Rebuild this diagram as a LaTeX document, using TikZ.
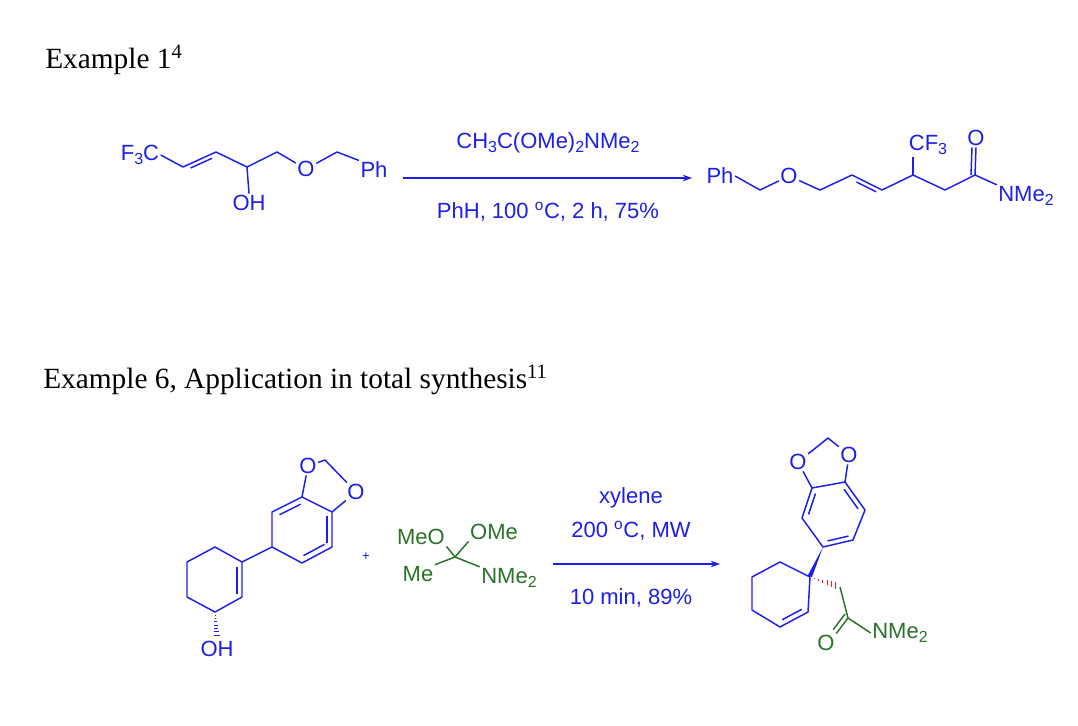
\documentclass[tikz,border=0pt]{standalone}
\usepackage{fontspec}
\setmainfont{Liberation Serif}
\newfontfamily\chem{Liberation Sans}
\usetikzlibrary{arrows.meta,calc}
\definecolor{cb}{RGB}{30,30,235}
\definecolor{cg}{RGB}{40,115,40}
\definecolor{cr}{RGB}{230,30,30}
\newcommand{\sbs}[1]{\raisebox{-0.35ex}{\fontsize{12}{12}\selectfont #1}}
\begin{document}
\begin{tikzpicture}[x=0.75pt,y=-0.75pt,
  bd/.style={draw=cb,line width=1.1pt,line join=round},
  gd/.style={draw=cg,line width=1.1pt,line join=round},
  lb/.style={text=cb,font=\chem\fontsize{16.5}{18}\selectfont,inner sep=1pt},
  lg/.style={text=cg,font=\chem\fontsize{16.5}{18}\selectfont,inner sep=1pt},
  hd/.style={font=\fontsize{22}{26}\selectfont,anchor=west,inner sep=0pt},
  arr/.style={draw=cb,line width=0.8pt,-{Stealth[length=7pt,width=5pt]}}]
\useasboundingbox (0,0) rectangle (1078,725);
\node[hd] (h1) at (45,60) {Example 1\textsuperscript{4}};
\node[hd] (h2) at (43,380) {Example 6, Application in total synthesis\textsuperscript{11}};
% top left
\node[lb] (f3c) at (140,155) {F\sbs{3}C};
\node[lb] (oh1) at (249,203) {OH};
\node[lb] (o1) at (306,169) {O};
\node[lb] (ph1) at (374,170) {Ph};
\coordinate (a1) at (183,167); \coordinate (a2) at (216,152); \coordinate (a3) at (247,167); \coordinate (a4) at (277,152); \coordinate (a5) at (337,152);
\draw[bd] (f3c.east) -- (a1) -- (a2) -- (a3) -- (a4) -- (o1);
\draw[bd] (o1) -- (a5) -- (ph1.north west);
\draw[bd] ($(a1)!0.2!(a2)+(1,4)$) -- ($(a1)!0.85!(a2)+(1,4)$);
\draw[bd] (a3) -- (oh1.north);
% top arrow
\coordinate (t1) at (403,178); \coordinate (t2) at (692,178);
\draw[arr] (t1) -- (t2);
\node[lb] (r1) at (548,143) {CH\sbs{3}C(OMe)\sbs{2}NMe\sbs{2}};
\node[lb] (r2) at (548,212) {PhH, 100 \textsuperscript{o}C, 2 h, 75\%};
% top right
\node[lb] (ph2) at (720,176) {Ph};
\node[lb] (o2) at (789,176) {O};
\node[lb] (cf3) at (928,145) {CF\sbs{3}};
\node[lb] (o3) at (976,138) {O};
\node[lb] (nme) at (1026,196) {NMe\sbs{2}};
\coordinate (b1) at (760,190); \coordinate (b2) at (820,190); \coordinate (b3) at (852,175); \coordinate (b4) at (882,190); \coordinate (b5) at (913,175); \coordinate (b6) at (945,190); \coordinate (b7) at (975,175);
\draw[bd] (ph2.east) -- (b1) -- (o2);
\draw[bd] (o2) -- (b2) -- (b3) -- (b4) -- (b5) -- (b6) -- (b7) -- (nme.north west);
\draw[bd] ($(b3)!0.2!(b4)+(-1.5,4)$) -- ($(b3)!0.85!(b4)+(-1.5,4)$);
\draw[bd] (b5) -- (913,157);
\draw[bd] (b7) -- (o3.south);
\draw[bd] ($(b7)+(-4,0)$) -- ($(o3.south)+(-4,0)$);
% bottom left
\foreach \n/\p in {c1/{215,547},c2/{242,562},c3/{242,597},c4/{215,612},c5/{187,597},c6/{187,562},
  r1/{272,547},r2/{272,512},r3/{302,497},r4/{332,512},r5/{332,547},r6/{302,563},m/{325,460}}
  \coordinate (\n) at (\p);
\node[lb] (oa) at (308,466) {O};
\node[lb] (ob) at (356,492) {O};
\node[lb] (oh2) at (217,649) {OH};
\draw[bd] (c1)--(c2)--(c3)--(c4)--(c5)--(c6)--cycle;
\draw[bd] ($(c2)+(-5,5)$) -- ($(c3)+(-5,-3)$);
\draw[bd] (c2)--(r1);
\draw[bd] (r1)--(r2)--(r3)--(r4)--(r5)--(r6)--cycle;
\draw[bd] ($(r2)!0.15!(r3)+(3,5)$) -- ($(r2)!0.85!(r3)+(3,5)$);
\draw[bd] ($(r4)+(-5,4)$) -- ($(r5)+(-5,-4)$);
\draw[bd] ($(r5)!0.15!(r6)+(-3,-5)$) -- ($(r5)!0.85!(r6)+(-3,-5)$);
\draw[bd] (r3) -- (oa) -- (m) -- (ob) -- (r4);
\foreach \t in {0.12,0.24,...,0.9}
  \draw[cb,line width=0.8pt] ($(c4)!\t!(oh2.north)+(-\t*3.5,0)$) -- ($(c4)!\t!(oh2.north)+(\t*3.5,0)$);
\node[text=cb,font=\chem\normalsize] (plus) at (366,557) {+};
% reagent
\coordinate (q) at (455,557);
\node[lg] (meo) at (421,537) {MeO};
\node[lg] (ome) at (494,532) {OMe};
\node[lg] (me) at (418,574) {Me};
\node[lg] (nm2) at (509,578) {NMe\sbs{2}};
\draw[gd] (meo.south east) -- (q) -- (ome.south west);
\draw[gd] (me.north east) -- (q) -- (nm2.north west);
% bottom arrow
\coordinate (u1) at (553,564); \coordinate (u2) at (720,564);
\draw[arr] (u1) -- (u2);
\node[lb] (x1) at (631,498) {xylene};
\node[lb] (x2) at (631,531) {200 \textsuperscript{o}C, MW};
\node[lb] (x3) at (631,598) {10 min, 89\%};
% bottom right
\foreach \n/\p in {s1/{812,488},s2/{845,482},s3/{865,510},s4/{853,540},s5/{823,547},s6/{802,518},
  qc/{810,577},d2/{780,562},d3/{752,577},d4/{752,610},d5/{780,627},d6/{808,612},ch/{840,587},cc/{848,618},mm/{828,438}}
  \coordinate (\n) at (\p);
\node[lb] (oc) at (798,462) {O};
\node[lb] (od) at (849,455) {O};
\draw[bd] (s1)--(s2)--(s3)--(s4)--(s5)--(s6)--cycle;
\draw[bd] ($(s2)!0.15!(s3)+(-4,3)$) -- ($(s2)!0.85!(s3)+(-4,3)$);
\draw[bd] ($(s4)!0.15!(s5)+(0,-5)$) -- ($(s4)!0.85!(s5)+(0,-5)$);
\draw[bd] ($(s6)!0.15!(s1)+(5,1)$) -- ($(s6)!0.85!(s1)+(5,1)$);
\draw[bd] (s1) -- (oc) -- (mm) -- (od) -- (s2);
\draw[bd] (qc)--(d2)--(d3)--(d4)--(d5)--(d6)--cycle;
\draw[bd] ($(d5)!0.15!(d6)+(-2,-5)$) -- ($(d5)!0.85!(d6)+(-2,-5)$);
\fill[cb] (s5) -- ($(qc)+(-2.5,-1)$) -- ($(qc)+(2,0)$) -- cycle;
\foreach \t in {0.15,0.29,...,0.95}
  \draw[cr,line width=0.8pt] ($(qc)!\t!(ch)+(0,-\t*4)$) -- ($(qc)!\t!(ch)+(0,\t*4)$);
\node[lg] (oe) at (826,643) {O};
\node[lg] (nm3) at (900,633) {NMe\sbs{2}};
\draw[gd] (ch) -- (cc) -- (nm3.west);
\draw[gd] (cc) -- (oe.north east);
\draw[gd] ($(cc)+(-3,-4)$) -- ($(oe.north east)+(-3,-4)$);
\end{tikzpicture}
\end{document}
